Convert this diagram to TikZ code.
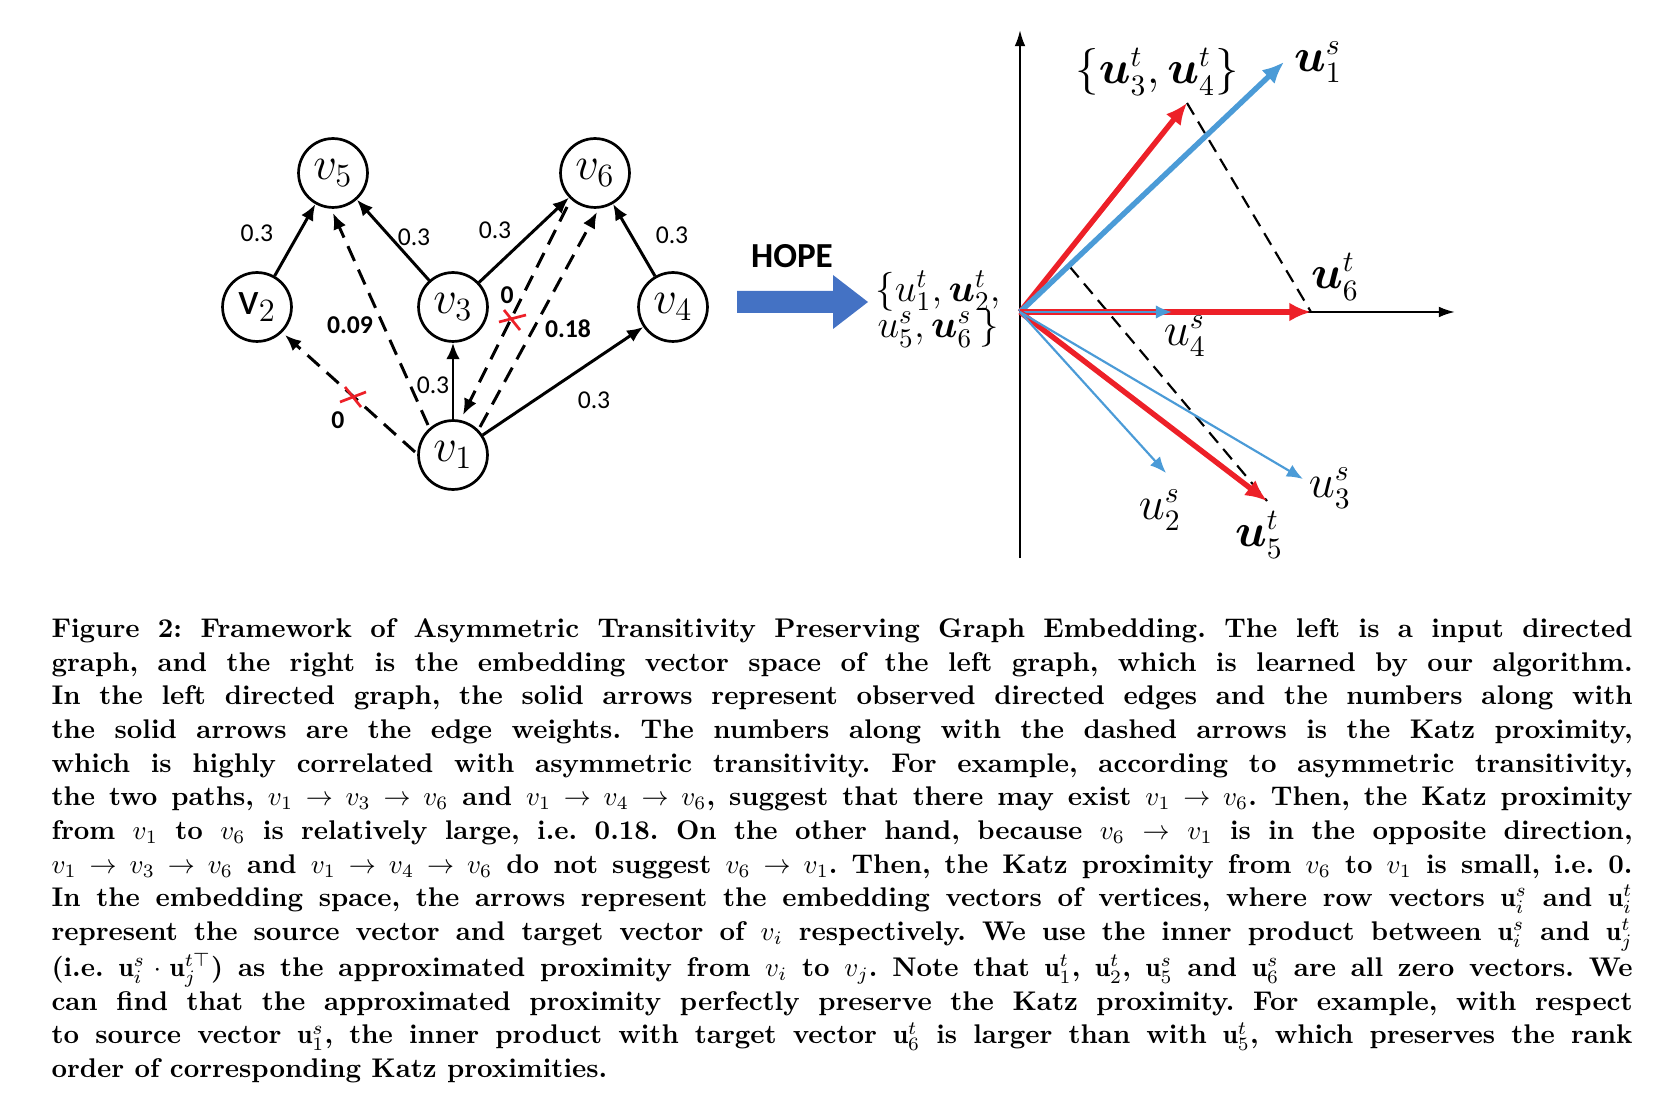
\documentclass[tikz,border=0pt]{standalone}
\usepackage{fontspec}
\usepackage{amsmath,bm}
\newfontfamily\calib{Carlito}
\usetikzlibrary{arrows.meta}
\definecolor{vred}{RGB}{237,32,40}
\definecolor{vblue}{RGB}{75,155,215}
\definecolor{hope}{RGB}{68,114,196}
\tikzset{
 vx/.style={circle,draw,line width=1pt,minimum size=25.5pt,inner sep=0pt,font=\fontsize{17}{18}\selectfont},
 ed/.style={line width=1.1pt,-{Latex[length=6pt,width=5pt]}},
 dd/.style={ed,dash pattern=on 6pt off 3.5pt},
 wl/.style={font=\calib\fontsize{9.5}{10}\selectfont},
 kl/.style={font=\calib\bfseries\fontsize{9.5}{10}\selectfont},
 rx/.style={vred,line width=1pt},
 tv/.style={line width=2pt,-{Latex[length=8pt,width=7pt]}},
 nv/.style={line width=0.8pt,-{Latex[length=6pt,width=5pt]}},
 ax/.style={line width=0.8pt,-{Latex[length=6pt,width=4pt]}},
 vl/.style={font=\fontsize{16}{17}\selectfont}
}
\begin{document}
\begin{tikzpicture}[x=0.37pt,y=-0.37pt]
\useasboundingbox (0,0) rectangle (1658,1094);
% graph
\node[vx] (v5) at (333,173) {$v_5$};
\node[vx] (v6) at (595,173) {$v_6$};
\node[vx] (v2) at (257,307) {\calib v$_2$};
\node[vx] (v3) at (453,307) {$v_3$};
\node[vx] (v4) at (673,307) {$v_4$};
\node[vx] (v1) at (453,455) {$v_1$};
\draw[ed] (v2) -- (v5);
\draw[ed] (v3) -- (v5);
\draw[ed] (v3) -- (v6);
\draw[ed] (v4) -- (v6);
\draw[ed] (v1) -- (v3);
\draw[ed] (v1) -- (v4);
\coordinate (a1) at (415,452); \coordinate (a2) at (285,335);
\coordinate (b1) at (428,425); \coordinate (b2) at (333,213);
\coordinate (c1) at (567,207); \coordinate (c2) at (463,415);
\coordinate (d1) at (480,427); \coordinate (d2) at (597,212);
\draw[dd] (a1) -- (a2);
\draw[dd] (b1) -- (b2);
\draw[dd] (c1) -- (c2);
\draw[dd] (d1) -- (d2);
\node[wl] (w1) at (257,233) {0.3};
\node[wl] (w2) at (414,237) {0.3};
\node[wl] (w3) at (495,230) {0.3};
\node[wl] (w4) at (672,235) {0.3};
\node[wl] (w5) at (433,385) {0.3};
\node[wl] (w6) at (594,400) {0.3};
\node[kl] (k1) at (338,420) {0};
\node[kl] (k2) at (350,325) {0.09};
\node[kl] (k3) at (507,295) {0};
\node[kl] (k4) at (568,329) {0.18};
\draw[rx] (345,387) -- (361,407) (340,402) -- (366,392);
\draw[rx] (504,310) -- (520,330) (499,322) -- (526,315);
% HOPE
\node[font=\calib\bfseries\fontsize{13}{14}\selectfont] (hp) at (792,256) {HOPE};
\fill[hope] (737,291) -- (833,291) -- (833,275) -- (868,302) -- (833,329) -- (833,313) -- (737,313) -- cycle;
% axes
\coordinate (o) at (1020,312);
\coordinate (yt) at (1020,30);
\coordinate (yb) at (1020,558);
\coordinate (xr) at (1455,312);
\draw[ax] (yb) -- (yt);
\draw[ax] (o) -- (xr);
\coordinate (e34) at (1187,103);
\coordinate (e1s) at (1284,62);
\coordinate (e6t) at (1311,312);
\coordinate (e4s) at (1172,312);
\coordinate (e5t) at (1267,501);
\coordinate (e2s) at (1166,473);
\coordinate (e3s) at (1303,479);
\coordinate (p1) at (1070,267);
\draw[black,line width=0.8pt,dash pattern=on 5pt off 3pt] (e34) -- (e6t);
\draw[black,line width=0.8pt,dash pattern=on 5pt off 3pt] (p1) -- (e5t);
\draw[tv,vred] (o) -- (e34);
\draw[tv,vblue] (o) -- (e1s);
\draw[tv,vred] (o) -- (e6t);
\draw[nv,vblue] (o) -- (e4s);
\draw[tv,vred] (o) -- (e5t);
\draw[nv,vblue] (o) -- (e2s);
\draw[nv,vblue] (o) -- (e3s);
\node[vl] (l34) at (1157,72) {$\{\bm{u}_3^t,\bm{u}_4^t\}$};
\node[vl] (l1s) at (1318,62) {$\bm{u}_1^s$};
\node[vl] (l6t) at (1335,277) {$\bm{u}_6^t$};
\node[vl] (l4s) at (1185,336) {$u_4^s$};
\node[vl] (l3s) at (1330,488) {$u_3^s$};
\node[vl] (l2s) at (1160,510) {$u_2^s$};
\node[vl] (l5t) at (1259,535) {$\bm{u}_5^t$};
\node[align=center,font=\fontsize{14.5}{15.5}\selectfont] (l0) at (938,309) {$\{u_1^t,\bm{u}_2^t,$\\[-2pt]$u_5^s,\bm{u}_6^s\,\}$};
% caption
\node[anchor=north west,inner sep=0pt,text width=585pt,align=justify,font=\bfseries\fontsize{10}{12.45}\selectfont\frenchspacing] (cap) at (51,618) {%
Figure 2: Framework of Asymmetric Transitivity Preserving Graph Embedding. The left is a input directed\linebreak
graph, and the right is the embedding vector space of the left graph, which is learned by our algorithm.\linebreak
In the left directed graph, the solid arrows represent observed directed edges and the numbers along with\linebreak
the solid arrows are the edge weights. The numbers along with the dashed arrows is the Katz proximity,\linebreak
which is highly correlated with asymmetric transitivity. For example, according to asymmetric transitivity,\linebreak
the two paths, $v_1\to v_3\to v_6$ and $v_1\to v_4\to v_6$, suggest that there may exist $v_1\to v_6$. Then, the Katz proximity\linebreak
from $v_1$ to $v_6$ is relatively large, i.e. 0.18. On the other hand, because $v_6\to v_1$ is in the opposite direction,\linebreak
$v_1\to v_3\to v_6$ and $v_1\to v_4\to v_6$ do not suggest $v_6\to v_1$. Then, the Katz proximity from $v_6$ to $v_1$ is small, i.e. 0.\linebreak
In the embedding space, the arrows represent the embedding vectors of vertices, where row vectors $\mathbf{u}_i^s$ and $\mathbf{u}_i^t$\linebreak
represent the source vector and target vector of $v_i$ respectively. We use the inner product between $\mathbf{u}_i^s$ and $\mathbf{u}_j^t$\linebreak
(i.e. $\mathbf{u}_i^s\cdot\mathbf{u}_j^{t\top}$) as the approximated proximity from $v_i$ to $v_j$. Note that $\mathbf{u}_1^t$, $\mathbf{u}_2^t$, $\mathbf{u}_5^s$ and $\mathbf{u}_6^s$ are all zero vectors. We\linebreak
can find that the approximated proximity perfectly preserve the Katz proximity. For example, with respect\linebreak
to source vector $\mathbf{u}_1^s$, the inner product with target vector $\mathbf{u}_6^t$ is larger than with $\mathbf{u}_5^t$, which preserves the rank\linebreak
order of corresponding Katz proximities.};
\end{tikzpicture}
\end{document}
